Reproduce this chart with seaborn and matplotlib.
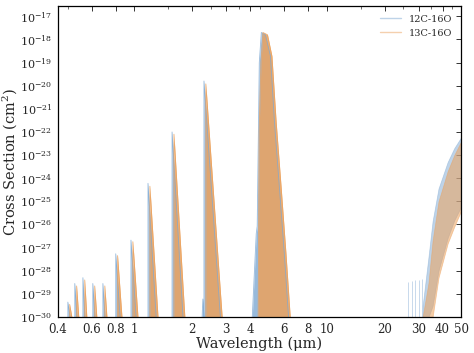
import matplotlib
matplotlib.use("Agg")
import matplotlib.pyplot as plt
import matplotlib.ticker as mticker
from matplotlib.lines import Line2D
import seaborn as sns
import pandas as pd
import numpy as np

# band envelopes (wavelength in um, cross section in cm^2)
co12_band = [11, 11, 11, 10, 10, 10, 9, 9, 9, 8, 8, 8, 7, 7, 7, 6, 6, 6, 5, 5, 5,
             4, 4, 4, 3, 3, 3, 2, 2, 2, 2, 2,
             1, 1, 1, 1, 1, 1, 1, 1, 1, 1, 1]
co12_wl = [0.451, 0.451, 0.463, 0.490, 0.490, 0.503, 0.540, 0.540, 0.553,
           0.608, 0.608, 0.624, 0.686, 0.686, 0.704, 0.800, 0.800, 0.843,
           0.960, 0.960, 1.021, 1.177, 1.177, 1.298, 1.57, 1.57, 1.79,
           2.25, 2.27, 2.30, 2.30, 2.80,
           4.10, 4.30, 4.35, 4.46, 4.57, 4.80, 5.10, 5.35, 5.68, 6.02, 6.33]
co12_xs = [1e-30, 4.4e-30, 1e-30, 1e-30, 2.8e-29, 1e-30, 1e-30, 5e-29, 1e-30,
           1e-30, 2.8e-29, 1e-30, 1e-30, 2.8e-29, 1e-30, 1e-30, 5.4e-28, 1e-30,
           1e-30, 2.1e-27, 1e-30, 1e-30, 6e-25, 1e-30, 1e-30, 1e-22, 1e-30,
           1e-30, 6e-30, 1e-30, 1.6e-20, 1e-30,
           1e-30, 4e-27, 8.5e-27, 1e-19, 2e-18, 1.6e-18, 1.9e-19, 2.6e-22,
           3.6e-25, 5.4e-28, 1e-30]

co13_band = [11, 11, 11, 10, 10, 10, 9, 9, 9, 8, 8, 8, 7, 7, 7, 6, 6, 6, 5, 5, 5,
             4, 4, 4, 3, 3, 3, 2, 2, 2,
             1, 1, 1, 1, 1, 1, 1, 1, 1, 1]
co13_wl = [0.461, 0.461, 0.473, 0.501, 0.501, 0.514, 0.552, 0.552, 0.566,
           0.622, 0.622, 0.638, 0.702, 0.702, 0.720, 0.818, 0.818, 0.862,
           0.982, 0.982, 1.044, 1.204, 1.204, 1.327, 1.606, 1.606, 1.83,
           2.352, 2.352, 2.86,
           4.40, 4.45, 4.55, 4.66, 4.92, 5.19, 5.46, 5.80, 6.14, 6.46]
co13_xs = [1e-30, 3.5e-30, 1e-30, 1e-30, 2.2e-29, 1e-30, 1e-30, 4e-29, 1e-30,
           1e-30, 2.2e-29, 1e-30, 1e-30, 2.2e-29, 1e-30, 1e-30, 4.5e-28, 1e-30,
           1e-30, 1.8e-27, 1e-30, 1e-30, 4.5e-25, 1e-30, 1e-30, 8e-23, 1e-30,
           1e-30, 1.2e-20, 1e-30,
           1e-30, 1e-22, 1e-19, 2e-18, 1.6e-18, 1.9e-19, 2.6e-22, 3.6e-25,
           5.4e-28, 1e-30]

# pure rotational band (upper / lower envelope of the line forest)
rot_wl = [31.5, 33.8, 35.5, 38.1, 42.5, 46.0, 50.0]
rot12_upper = [3e-30, 4e-28, 1.4e-26, 3.6e-25, 5e-24, 2e-23, 6e-23]
rot12_lower = [1e-30, 1e-30, 3e-30, 1e-28, 2.6e-27, 1.5e-26, 6e-26]
rot13_upper = [1e-30, 3e-29, 2e-27, 1e-25, 2e-24, 1e-23, 4e-23]
rot13_lower = [1e-30, 1e-30, 1e-30, 5e-29, 1.5e-27, 8e-27, 4e-26]

# weak 12CO lines just short of the rotational band
comb12_wl = [26.6, 27.9, 28.9, 30.0, 31.1]
comb12_xs = [3.2e-29, 3.5e-29, 3.8e-29, 4e-29, 4.2e-29]

xticks = [0.4, 0.6, 0.8, 1, 2, 3, 4, 6, 8, 10, 20, 30, 40, 50]
xticklabels = ['0.4', '0.6', '0.8', '1', '2', '3', '4', '6', '8', '10', '20', '30', '40', '50']
ytick_exp = [-30, -29, -28, -27, -26, -25, -24, -23, -22, -21, -20, -19, -18, -17]

blue = '#7fa9d3'
orange = '#eba25e'

sns.set_style("white")
plt.rcParams['font.family'] = ['DejaVu Serif']
plt.rcParams['mathtext.fontset'] = 'dejavuserif'

df12 = pd.DataFrame({'wavelength': co12_wl, 'cross_section': co12_xs, 'band': co12_band})
df13 = pd.DataFrame({'wavelength': co13_wl, 'cross_section': co13_xs, 'band': co13_band})

fig, ax = plt.subplots(figsize=(4.74, 3.53), dpi=100)
fig.subplots_adjust(left=0.122, right=0.973, bottom=0.102, top=0.983)
ax.set(xscale='log', yscale='log')

floor = 1e-30
for df, col, a in [(df12, blue, 0.8), (df13, orange, 0.85)]:
    for b, g in df.groupby('band'):
        ax.fill_between(g['wavelength'], floor, g['cross_section'], color=col,
                        alpha=a, lw=0)
    sns.lineplot(data=df, x='wavelength', y='cross_section', units='band',
                 estimator=None, sort=False, color=col, alpha=a, lw=0.6, ax=ax)

ax.fill_between(rot_wl, rot12_lower, rot12_upper, color=blue, alpha=0.5, lw=0.5)
ax.vlines(comb12_wl, floor, comb12_xs, color=blue, alpha=0.5, lw=0.6)
ax.fill_between(rot_wl, rot13_lower, rot13_upper, color=orange, alpha=0.55, lw=0.5)

ax.set_xlim(0.4, 50)
ax.set_ylim(1e-30, 2.8e-17)
ax.set_xticks(xticks)
ax.set_xticklabels(xticklabels)
ax.xaxis.set_minor_locator(mticker.LogLocator(base=10, subs=np.arange(2, 10) * 0.5, numticks=50))
ax.xaxis.set_minor_formatter(mticker.NullFormatter())
ax.set_yticks([10.0 ** e for e in ytick_exp])
ax.set_yticklabels([f'$10^{{{e}}}$' for e in ytick_exp])
ax.yaxis.set_minor_locator(mticker.NullLocator())
ax.tick_params(which='both', direction='in', top=True, right=True, labelsize=8.5,
               color='#333333')
ax.tick_params(axis='y', labelsize=8, pad=4)
ax.tick_params(axis='x', pad=4)
ax.tick_params(which='major', length=3.5, width=0.7)
ax.tick_params(which='minor', length=2, width=0.5)
for s in ax.spines.values():
    s.set_color('black')
    s.set_linewidth(0.9)

ax.set_xlabel('Wavelength (μm)', fontsize=10.5, labelpad=1)
ax.set_ylabel('Cross Section (cm$^2$)', fontsize=10.5, labelpad=1)

handles = [Line2D([], [], color=blue, lw=1, alpha=0.5),
           Line2D([], [], color=orange, lw=1, alpha=0.5)]
ax.legend(handles, ['12C-16O', '13C-16O'], loc='upper right', frameon=False,
          fontsize=7, handlelength=2.2)

fig.savefig('out.png', dpi=100)
